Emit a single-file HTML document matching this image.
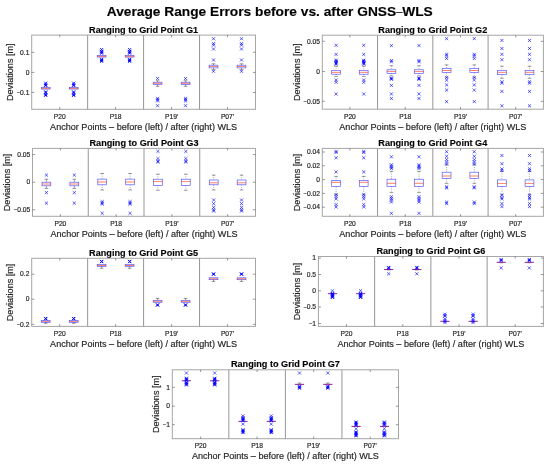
<!DOCTYPE html>
<html><head><meta charset="utf-8"><title>Average Range Errors before vs. after GNSS-WLS</title>
<style>
html,body{margin:0;padding:0;background:#fff;}
body{width:550px;height:465px;overflow:hidden;}
svg{display:block;font-family:"Liberation Sans",Arial,sans-serif;}
text{stroke:#262626;stroke-width:0.18px;}
</style></head><body>
<svg width="550" height="465" viewBox="0 0 550 465">
<rect width="550" height="465" fill="#fff"/>
<text x="269.8" y="16.1" text-anchor="middle" font-weight="bold" font-size="13.7" fill="#000" textLength="326" lengthAdjust="spacingAndGlyphs">Average Range Errors before vs. after GNSS<tspan font-weight="normal" font-size="11" dy="-1.2">–</tspan><tspan dy="1.2">WLS</tspan></text>
<text x="143.6" y="32.7" text-anchor="middle" font-weight="bold" font-size="9.1" fill="#000" textLength="109" lengthAdjust="spacingAndGlyphs">Ranging to Grid Point G1</text>
<g stroke="#a6a6a6" stroke-width="1" fill="none">
<rect x="31.7" y="35.1" width="223.8" height="74.2"/>
<path d="M87.65 35.1V109.3M143.60 35.1V109.3M199.55 35.1V109.3" stroke="#969696"/>
<path d="M31.7 52.3h2.6M255.5 52.3h-2.6M31.7 72.4h2.6M255.5 72.4h-2.6M31.7 92.4h2.6M255.5 92.4h-2.6M59.7 35.1v2.2M59.7 109.3v-2.2M115.6 35.1v2.2M115.6 109.3v-2.2M171.6 35.1v2.2M171.6 109.3v-2.2M227.5 35.1v2.2M227.5 109.3v-2.2" stroke="#555" stroke-width="0.6"/>
</g>
<text x="29.4" y="54.5" text-anchor="end" font-size="6.7" fill="#262626">0.1</text>
<text x="29.4" y="74.6" text-anchor="end" font-size="6.7" fill="#262626">0</text>
<text x="29.4" y="94.6" text-anchor="end" font-size="6.7" fill="#262626"><tspan font-size="5.7" dy="-0.45">−</tspan><tspan dy="0.45" dx="0.1">0.1</tspan></text>
<text x="59.7" y="118.9" text-anchor="middle" font-size="6.7" fill="#262626">P20</text>
<text x="115.6" y="118.9" text-anchor="middle" font-size="6.7" fill="#262626">P18</text>
<text x="171.6" y="118.9" text-anchor="middle" font-size="6.7" fill="#262626">P19'</text>
<text x="227.5" y="118.9" text-anchor="middle" font-size="6.7" fill="#262626">P07'</text>
<text x="143.6" y="129.7" text-anchor="middle" font-size="9.1" fill="#262626" textLength="187" lengthAdjust="spacingAndGlyphs">Anchor Points – before (left) / after (right) WLS</text>
<text transform="translate(13.0 72.2) rotate(-90)" text-anchor="middle" font-size="9.1" fill="#262626" textLength="57.6" lengthAdjust="spacingAndGlyphs">Deviations [m]</text>
<rect x="41.3" y="87.5" width="8.8" height="1.6" fill="none" stroke="#00f" stroke-width="0.65" opacity="0.7"/>
<path d="M41.3 88.3h8.8" stroke="#ff2a0a" stroke-width="0.75" opacity="0.8"/>
<path d="M44.19 81.70l3.0 3.0M44.19 84.70l3.0 -3.0M44.19 83.30l3.0 3.0M44.19 86.30l3.0 -3.0M44.19 84.00l3.0 3.0M44.19 87.00l3.0 -3.0M44.19 90.40l3.0 3.0M44.19 93.40l3.0 -3.0M44.19 91.40l3.0 3.0M44.19 94.40l3.0 -3.0M44.19 93.20l3.0 3.0M44.19 96.20l3.0 -3.0M44.19 93.90l3.0 3.0M44.19 96.90l3.0 -3.0" stroke="#00f" stroke-width="0.9" fill="none"/>
<rect x="69.3" y="87.5" width="8.8" height="1.6" fill="none" stroke="#00f" stroke-width="0.65" opacity="0.7"/>
<path d="M69.3 88.3h8.8" stroke="#ff2a0a" stroke-width="0.75" opacity="0.8"/>
<path d="M72.16 81.70l3.0 3.0M72.16 84.70l3.0 -3.0M72.16 83.30l3.0 3.0M72.16 86.30l3.0 -3.0M72.16 84.00l3.0 3.0M72.16 87.00l3.0 -3.0M72.16 90.40l3.0 3.0M72.16 93.40l3.0 -3.0M72.16 91.40l3.0 3.0M72.16 94.40l3.0 -3.0M72.16 93.20l3.0 3.0M72.16 96.20l3.0 -3.0M72.16 93.90l3.0 3.0M72.16 96.90l3.0 -3.0" stroke="#00f" stroke-width="0.9" fill="none"/>
<rect x="97.2" y="55.5" width="8.8" height="1.6" fill="none" stroke="#00f" stroke-width="0.65" opacity="0.7"/>
<path d="M97.2 56.3h8.8" stroke="#ff2a0a" stroke-width="0.75" opacity="0.8"/>
<path d="M100.14 48.10l3.0 3.0M100.14 51.10l3.0 -3.0M100.14 49.80l3.0 3.0M100.14 52.80l3.0 -3.0M100.14 50.70l3.0 3.0M100.14 53.70l3.0 -3.0M100.14 51.70l3.0 3.0M100.14 54.70l3.0 -3.0M100.14 57.90l3.0 3.0M100.14 60.90l3.0 -3.0M100.14 58.90l3.0 3.0M100.14 61.90l3.0 -3.0M100.14 59.80l3.0 3.0M100.14 62.80l3.0 -3.0" stroke="#00f" stroke-width="0.9" fill="none"/>
<rect x="125.2" y="55.5" width="8.8" height="1.6" fill="none" stroke="#00f" stroke-width="0.65" opacity="0.7"/>
<path d="M125.2 56.3h8.8" stroke="#ff2a0a" stroke-width="0.75" opacity="0.8"/>
<path d="M128.11 48.10l3.0 3.0M128.11 51.10l3.0 -3.0M128.11 49.80l3.0 3.0M128.11 52.80l3.0 -3.0M128.11 50.70l3.0 3.0M128.11 53.70l3.0 -3.0M128.11 51.70l3.0 3.0M128.11 54.70l3.0 -3.0M128.11 57.90l3.0 3.0M128.11 60.90l3.0 -3.0M128.11 58.90l3.0 3.0M128.11 61.90l3.0 -3.0M128.11 59.80l3.0 3.0M128.11 62.80l3.0 -3.0" stroke="#00f" stroke-width="0.9" fill="none"/>
<path d="M157.6 80.8V82.2M157.6 84.5V86.3" stroke="#000" stroke-width="0.6" fill="none" opacity="0.6"/>
<path d="M155.8 80.8h3.6M155.8 86.3h3.6" stroke="#000" stroke-width="0.8" fill="none" opacity="0.5"/>
<rect x="153.2" y="82.2" width="8.8" height="2.3" fill="none" stroke="#00f" stroke-width="0.65" opacity="0.7"/>
<path d="M153.2 83.3h8.8" stroke="#ff2a0a" stroke-width="0.75" opacity="0.8"/>
<path d="M156.04 76.95l3.1 3.1M156.04 80.05l3.1 -3.1M156.04 96.85l3.1 3.1M156.04 99.95l3.1 -3.1M156.04 98.15l3.1 3.1M156.04 101.25l3.1 -3.1M156.04 99.35l3.1 3.1M156.04 102.45l3.1 -3.1M156.04 104.15l3.1 3.1M156.04 107.25l3.1 -3.1" stroke="#00f" stroke-width="0.7" fill="none" opacity="0.9"/>
<path d="M185.6 80.8V82.2M185.6 84.5V86.3" stroke="#000" stroke-width="0.6" fill="none" opacity="0.6"/>
<path d="M183.8 80.8h3.6M183.8 86.3h3.6" stroke="#000" stroke-width="0.8" fill="none" opacity="0.5"/>
<rect x="181.2" y="82.2" width="8.8" height="2.3" fill="none" stroke="#00f" stroke-width="0.65" opacity="0.7"/>
<path d="M181.2 83.3h8.8" stroke="#ff2a0a" stroke-width="0.75" opacity="0.8"/>
<path d="M184.01 76.95l3.1 3.1M184.01 80.05l3.1 -3.1M184.01 96.85l3.1 3.1M184.01 99.95l3.1 -3.1M184.01 98.15l3.1 3.1M184.01 101.25l3.1 -3.1M184.01 99.35l3.1 3.1M184.01 102.45l3.1 -3.1M184.01 104.15l3.1 3.1M184.01 107.25l3.1 -3.1" stroke="#00f" stroke-width="0.7" fill="none" opacity="0.9"/>
<path d="M213.5 63.8V65.2M213.5 67.9V69.8" stroke="#000" stroke-width="0.6" fill="none" opacity="0.6"/>
<path d="M211.7 63.8h3.6M211.7 69.8h3.6" stroke="#000" stroke-width="0.8" fill="none" opacity="0.5"/>
<rect x="209.1" y="65.2" width="8.8" height="2.7" fill="none" stroke="#00f" stroke-width="0.65" opacity="0.7"/>
<path d="M209.1 66.6h8.8" stroke="#ff2a0a" stroke-width="0.75" opacity="0.8"/>
<path d="M211.99 37.15l3.1 3.1M211.99 40.25l3.1 -3.1M211.99 42.05l3.1 3.1M211.99 45.15l3.1 -3.1M211.99 43.55l3.1 3.1M211.99 46.65l3.1 -3.1M211.99 47.45l3.1 3.1M211.99 50.55l3.1 -3.1M211.99 58.45l3.1 3.1M211.99 61.55l3.1 -3.1M211.99 69.75l3.1 3.1M211.99 72.85l3.1 -3.1" stroke="#00f" stroke-width="0.7" fill="none" opacity="0.9"/>
<path d="M241.5 63.8V65.2M241.5 67.9V69.8" stroke="#000" stroke-width="0.6" fill="none" opacity="0.6"/>
<path d="M239.7 63.8h3.6M239.7 69.8h3.6" stroke="#000" stroke-width="0.8" fill="none" opacity="0.5"/>
<rect x="237.1" y="65.2" width="8.8" height="2.7" fill="none" stroke="#00f" stroke-width="0.65" opacity="0.7"/>
<path d="M237.1 66.6h8.8" stroke="#ff2a0a" stroke-width="0.75" opacity="0.8"/>
<path d="M239.96 37.15l3.1 3.1M239.96 40.25l3.1 -3.1M239.96 42.05l3.1 3.1M239.96 45.15l3.1 -3.1M239.96 43.55l3.1 3.1M239.96 46.65l3.1 -3.1M239.96 47.45l3.1 3.1M239.96 50.55l3.1 -3.1M239.96 58.45l3.1 3.1M239.96 61.55l3.1 -3.1M239.96 69.75l3.1 3.1M239.96 72.85l3.1 -3.1" stroke="#00f" stroke-width="0.7" fill="none" opacity="0.9"/>
<text x="432.8" y="32.8" text-anchor="middle" font-weight="bold" font-size="9.1" fill="#000" textLength="109" lengthAdjust="spacingAndGlyphs">Ranging to Grid Point G2</text>
<g stroke="#a6a6a6" stroke-width="1" fill="none">
<rect x="322.3" y="35.2" width="221.1" height="74.0"/>
<path d="M377.56 35.2V109.2M432.83 35.2V109.2M488.09 35.2V109.2" stroke="#969696"/>
<path d="M322.3 41.3h2.6M543.35 41.3h-2.6M322.3 71.5h2.6M543.35 71.5h-2.6M322.3 101.3h2.6M543.35 101.3h-2.6M349.9 35.2v2.2M349.9 109.2v-2.2M405.2 35.2v2.2M405.2 109.2v-2.2M460.5 35.2v2.2M460.5 109.2v-2.2M515.7 35.2v2.2M515.7 109.2v-2.2" stroke="#555" stroke-width="0.6"/>
</g>
<text x="320.0" y="43.5" text-anchor="end" font-size="6.7" fill="#262626">0.05</text>
<text x="320.0" y="73.7" text-anchor="end" font-size="6.7" fill="#262626">0</text>
<text x="320.0" y="103.5" text-anchor="end" font-size="6.7" fill="#262626"><tspan font-size="5.7" dy="-0.45">−</tspan><tspan dy="0.45" dx="0.1">0.05</tspan></text>
<text x="349.9" y="118.8" text-anchor="middle" font-size="6.7" fill="#262626">P20</text>
<text x="405.2" y="118.8" text-anchor="middle" font-size="6.7" fill="#262626">P18</text>
<text x="460.5" y="118.8" text-anchor="middle" font-size="6.7" fill="#262626">P19'</text>
<text x="515.7" y="118.8" text-anchor="middle" font-size="6.7" fill="#262626">P07'</text>
<text x="432.8" y="129.6" text-anchor="middle" font-size="9.1" fill="#262626" textLength="187" lengthAdjust="spacingAndGlyphs">Anchor Points – before (left) / after (right) WLS</text>
<text transform="translate(299.6 72.2) rotate(-90)" text-anchor="middle" font-size="9.1" fill="#262626" textLength="57.6" lengthAdjust="spacingAndGlyphs">Deviations [m]</text>
<path d="M336.1 66.2V70.3M336.1 74.2V76.4" stroke="#000" stroke-width="0.6" stroke-dasharray="0.9 1.3" fill="none" opacity="0.6"/>
<path d="M334.3 66.2h3.6M334.3 76.4h3.6" stroke="#000" stroke-width="0.8" fill="none" opacity="0.5"/>
<rect x="331.7" y="70.3" width="8.8" height="3.9" fill="none" stroke="#00f" stroke-width="0.65" opacity="0.7"/>
<path d="M331.7 72.3h8.8" stroke="#ff2a0a" stroke-width="0.75" opacity="0.8"/>
<path d="M334.57 43.75l3.1 3.1M334.57 46.85l3.1 -3.1M334.57 52.85l3.1 3.1M334.57 55.95l3.1 -3.1M334.57 78.45l3.1 3.1M334.57 81.55l3.1 -3.1M334.57 80.75l3.1 3.1M334.57 83.85l3.1 -3.1M334.57 92.45l3.1 3.1M334.57 95.55l3.1 -3.1" stroke="#00f" stroke-width="0.7" fill="none" opacity="0.9"/>
<path d="M334.62 58.80l3.0 3.0M334.62 61.80l3.0 -3.0M334.62 60.10l3.0 3.0M334.62 63.10l3.0 -3.0M334.62 61.30l3.0 3.0M334.62 64.30l3.0 -3.0M334.62 62.50l3.0 3.0M334.62 65.50l3.0 -3.0" stroke="#00f" stroke-width="0.9" fill="none"/>
<path d="M363.7 66.2V70.3M363.7 74.2V76.4" stroke="#000" stroke-width="0.6" stroke-dasharray="0.9 1.3" fill="none" opacity="0.6"/>
<path d="M361.9 66.2h3.6M361.9 76.4h3.6" stroke="#000" stroke-width="0.8" fill="none" opacity="0.5"/>
<rect x="359.3" y="70.3" width="8.8" height="3.9" fill="none" stroke="#00f" stroke-width="0.65" opacity="0.7"/>
<path d="M359.3 72.3h8.8" stroke="#ff2a0a" stroke-width="0.75" opacity="0.8"/>
<path d="M362.20 43.75l3.1 3.1M362.20 46.85l3.1 -3.1M362.20 52.85l3.1 3.1M362.20 55.95l3.1 -3.1M362.20 78.45l3.1 3.1M362.20 81.55l3.1 -3.1M362.20 80.75l3.1 3.1M362.20 83.85l3.1 -3.1M362.20 92.45l3.1 3.1M362.20 95.55l3.1 -3.1" stroke="#00f" stroke-width="0.7" fill="none" opacity="0.9"/>
<path d="M362.25 58.80l3.0 3.0M362.25 61.80l3.0 -3.0M362.25 60.10l3.0 3.0M362.25 63.10l3.0 -3.0M362.25 61.30l3.0 3.0M362.25 64.30l3.0 -3.0M362.25 62.50l3.0 3.0M362.25 65.50l3.0 -3.0" stroke="#00f" stroke-width="0.9" fill="none"/>
<path d="M391.4 65.7V69.8M391.4 73.3V75.9" stroke="#000" stroke-width="0.6" stroke-dasharray="0.9 1.3" fill="none" opacity="0.6"/>
<path d="M389.6 65.7h3.6M389.6 75.9h3.6" stroke="#000" stroke-width="0.8" fill="none" opacity="0.5"/>
<rect x="387.0" y="69.8" width="8.8" height="3.5" fill="none" stroke="#00f" stroke-width="0.65" opacity="0.7"/>
<path d="M387.0 71.6h8.8" stroke="#ff2a0a" stroke-width="0.75" opacity="0.8"/>
<path d="M389.83 44.05l3.1 3.1M389.83 47.15l3.1 -3.1M389.83 58.95l3.1 3.1M389.83 62.05l3.1 -3.1M389.83 60.25l3.1 3.1M389.83 63.35l3.1 -3.1M389.83 83.85l3.1 3.1M389.83 86.95l3.1 -3.1M389.83 92.35l3.1 3.1M389.83 95.45l3.1 -3.1M389.83 96.95l3.1 3.1M389.83 100.05l3.1 -3.1" stroke="#00f" stroke-width="0.7" fill="none" opacity="0.9"/>
<path d="M389.88 76.70l3.0 3.0M389.88 79.70l3.0 -3.0M389.88 77.70l3.0 3.0M389.88 80.70l3.0 -3.0" stroke="#00f" stroke-width="0.9" fill="none"/>
<path d="M419.0 65.7V69.8M419.0 73.3V75.9" stroke="#000" stroke-width="0.6" stroke-dasharray="0.9 1.3" fill="none" opacity="0.6"/>
<path d="M417.2 65.7h3.6M417.2 75.9h3.6" stroke="#000" stroke-width="0.8" fill="none" opacity="0.5"/>
<rect x="414.6" y="69.8" width="8.8" height="3.5" fill="none" stroke="#00f" stroke-width="0.65" opacity="0.7"/>
<path d="M414.6 71.6h8.8" stroke="#ff2a0a" stroke-width="0.75" opacity="0.8"/>
<path d="M417.46 44.05l3.1 3.1M417.46 47.15l3.1 -3.1M417.46 58.95l3.1 3.1M417.46 62.05l3.1 -3.1M417.46 60.25l3.1 3.1M417.46 63.35l3.1 -3.1M417.46 83.85l3.1 3.1M417.46 86.95l3.1 -3.1M417.46 92.35l3.1 3.1M417.46 95.45l3.1 -3.1M417.46 96.95l3.1 3.1M417.46 100.05l3.1 -3.1" stroke="#00f" stroke-width="0.7" fill="none" opacity="0.9"/>
<path d="M417.51 76.70l3.0 3.0M417.51 79.70l3.0 -3.0M417.51 77.70l3.0 3.0M417.51 80.70l3.0 -3.0" stroke="#00f" stroke-width="0.9" fill="none"/>
<path d="M446.6 64.9V68.4M446.6 72.6V77.2" stroke="#000" stroke-width="0.6" stroke-dasharray="0.9 1.3" fill="none" opacity="0.6"/>
<path d="M444.8 64.9h3.6M444.8 77.2h3.6" stroke="#000" stroke-width="0.8" fill="none" opacity="0.5"/>
<rect x="442.2" y="68.4" width="8.8" height="4.2" fill="none" stroke="#00f" stroke-width="0.65" opacity="0.7"/>
<path d="M442.2 70.5h8.8" stroke="#ff2a0a" stroke-width="0.75" opacity="0.8"/>
<path d="M445.09 37.05l3.1 3.1M445.09 40.15l3.1 -3.1M445.09 52.75l3.1 3.1M445.09 55.85l3.1 -3.1M445.09 54.35l3.1 3.1M445.09 57.45l3.1 -3.1M445.09 56.95l3.1 3.1M445.09 60.05l3.1 -3.1M445.09 75.95l3.1 3.1M445.09 79.05l3.1 -3.1M445.09 78.55l3.1 3.1M445.09 81.65l3.1 -3.1M445.09 83.35l3.1 3.1M445.09 86.45l3.1 -3.1M445.09 88.55l3.1 3.1M445.09 91.65l3.1 -3.1M445.09 100.05l3.1 3.1M445.09 103.15l3.1 -3.1" stroke="#00f" stroke-width="0.7" fill="none" opacity="0.9"/>
<path d="M474.3 64.9V68.4M474.3 72.6V77.2" stroke="#000" stroke-width="0.6" stroke-dasharray="0.9 1.3" fill="none" opacity="0.6"/>
<path d="M472.5 64.9h3.6M472.5 77.2h3.6" stroke="#000" stroke-width="0.8" fill="none" opacity="0.5"/>
<rect x="469.9" y="68.4" width="8.8" height="4.2" fill="none" stroke="#00f" stroke-width="0.65" opacity="0.7"/>
<path d="M469.9 70.5h8.8" stroke="#ff2a0a" stroke-width="0.75" opacity="0.8"/>
<path d="M472.72 37.05l3.1 3.1M472.72 40.15l3.1 -3.1M472.72 52.75l3.1 3.1M472.72 55.85l3.1 -3.1M472.72 54.35l3.1 3.1M472.72 57.45l3.1 -3.1M472.72 56.95l3.1 3.1M472.72 60.05l3.1 -3.1M472.72 75.95l3.1 3.1M472.72 79.05l3.1 -3.1M472.72 78.55l3.1 3.1M472.72 81.65l3.1 -3.1M472.72 83.35l3.1 3.1M472.72 86.45l3.1 -3.1M472.72 88.55l3.1 3.1M472.72 91.65l3.1 -3.1M472.72 100.05l3.1 3.1M472.72 103.15l3.1 -3.1" stroke="#00f" stroke-width="0.7" fill="none" opacity="0.9"/>
<path d="M501.9 66.2V70.3M501.9 74.7V78.3" stroke="#000" stroke-width="0.6" stroke-dasharray="0.9 1.3" fill="none" opacity="0.6"/>
<path d="M500.1 66.2h3.6M500.1 78.3h3.6" stroke="#000" stroke-width="0.8" fill="none" opacity="0.5"/>
<rect x="497.5" y="70.3" width="8.8" height="4.4" fill="none" stroke="#00f" stroke-width="0.65" opacity="0.7"/>
<path d="M497.5 72.3h8.8" stroke="#ff2a0a" stroke-width="0.75" opacity="0.8"/>
<path d="M500.35 38.85l3.1 3.1M500.35 41.95l3.1 -3.1M500.35 46.95l3.1 3.1M500.35 50.05l3.1 -3.1M500.35 52.75l3.1 3.1M500.35 55.85l3.1 -3.1M500.35 58.15l3.1 3.1M500.35 61.25l3.1 -3.1M500.35 80.25l3.1 3.1M500.35 83.35l3.1 -3.1M500.35 81.65l3.1 3.1M500.35 84.75l3.1 -3.1M500.35 89.85l3.1 3.1M500.35 92.95l3.1 -3.1M500.35 104.25l3.1 3.1M500.35 107.35l3.1 -3.1" stroke="#00f" stroke-width="0.7" fill="none" opacity="0.9"/>
<path d="M529.5 66.2V70.3M529.5 74.7V78.3" stroke="#000" stroke-width="0.6" stroke-dasharray="0.9 1.3" fill="none" opacity="0.6"/>
<path d="M527.7 66.2h3.6M527.7 78.3h3.6" stroke="#000" stroke-width="0.8" fill="none" opacity="0.5"/>
<rect x="525.1" y="70.3" width="8.8" height="4.4" fill="none" stroke="#00f" stroke-width="0.65" opacity="0.7"/>
<path d="M525.1 72.3h8.8" stroke="#ff2a0a" stroke-width="0.75" opacity="0.8"/>
<path d="M527.98 38.85l3.1 3.1M527.98 41.95l3.1 -3.1M527.98 46.95l3.1 3.1M527.98 50.05l3.1 -3.1M527.98 52.75l3.1 3.1M527.98 55.85l3.1 -3.1M527.98 58.15l3.1 3.1M527.98 61.25l3.1 -3.1M527.98 80.25l3.1 3.1M527.98 83.35l3.1 -3.1M527.98 81.65l3.1 3.1M527.98 84.75l3.1 -3.1M527.98 89.85l3.1 3.1M527.98 92.95l3.1 -3.1M527.98 104.25l3.1 3.1M527.98 107.35l3.1 -3.1" stroke="#00f" stroke-width="0.7" fill="none" opacity="0.9"/>
<text x="144.0" y="146.0" text-anchor="middle" font-weight="bold" font-size="9.1" fill="#000" textLength="109" lengthAdjust="spacingAndGlyphs">Ranging to Grid Point G3</text>
<g stroke="#a6a6a6" stroke-width="1" fill="none">
<rect x="32.5" y="148.4" width="223.0" height="67.9"/>
<path d="M88.25 148.4V216.3M144.00 148.4V216.3M199.75 148.4V216.3" stroke="#969696"/>
<path d="M32.5 154.6h2.6M255.5 154.6h-2.6M32.5 182.2h2.6M255.5 182.2h-2.6M32.5 209.7h2.6M255.5 209.7h-2.6M60.4 148.4v2.2M60.4 216.3v-2.2M116.1 148.4v2.2M116.1 216.3v-2.2M171.9 148.4v2.2M171.9 216.3v-2.2M227.6 148.4v2.2M227.6 216.3v-2.2" stroke="#555" stroke-width="0.6"/>
</g>
<text x="30.2" y="156.8" text-anchor="end" font-size="6.7" fill="#262626">0.05</text>
<text x="30.2" y="184.4" text-anchor="end" font-size="6.7" fill="#262626">0</text>
<text x="30.2" y="211.9" text-anchor="end" font-size="6.7" fill="#262626"><tspan font-size="5.7" dy="-0.45">−</tspan><tspan dy="0.45" dx="0.1">0.05</tspan></text>
<text x="60.4" y="225.9" text-anchor="middle" font-size="6.7" fill="#262626">P20</text>
<text x="116.1" y="225.9" text-anchor="middle" font-size="6.7" fill="#262626">P18</text>
<text x="171.9" y="225.9" text-anchor="middle" font-size="6.7" fill="#262626">P19'</text>
<text x="227.6" y="225.9" text-anchor="middle" font-size="6.7" fill="#262626">P07'</text>
<text x="144.0" y="236.7" text-anchor="middle" font-size="9.1" fill="#262626" textLength="187" lengthAdjust="spacingAndGlyphs">Anchor Points – before (left) / after (right) WLS</text>
<text transform="translate(9.9 182.4) rotate(-90)" text-anchor="middle" font-size="9.1" fill="#262626" textLength="57.6" lengthAdjust="spacingAndGlyphs">Deviations [m]</text>
<path d="M46.4 179.2V182.2M46.4 185.8V188.4" stroke="#000" stroke-width="0.6" fill="none" opacity="0.6"/>
<path d="M44.6 179.2h3.6M44.6 188.4h3.6" stroke="#000" stroke-width="0.8" fill="none" opacity="0.5"/>
<rect x="42.0" y="182.2" width="8.8" height="3.6" fill="none" stroke="#00f" stroke-width="0.65" opacity="0.7"/>
<path d="M42.0 184.0h8.8" stroke="#ff2a0a" stroke-width="0.75" opacity="0.8"/>
<path d="M44.89 173.55l3.1 3.1M44.89 176.65l3.1 -3.1M44.89 191.05l3.1 3.1M44.89 194.15l3.1 -3.1M44.89 201.55l3.1 3.1M44.89 204.65l3.1 -3.1" stroke="#00f" stroke-width="0.7" fill="none" opacity="0.9"/>
<path d="M74.3 179.2V182.2M74.3 185.8V188.4" stroke="#000" stroke-width="0.6" fill="none" opacity="0.6"/>
<path d="M72.5 179.2h3.6M72.5 188.4h3.6" stroke="#000" stroke-width="0.8" fill="none" opacity="0.5"/>
<rect x="69.9" y="182.2" width="8.8" height="3.6" fill="none" stroke="#00f" stroke-width="0.65" opacity="0.7"/>
<path d="M69.9 184.0h8.8" stroke="#ff2a0a" stroke-width="0.75" opacity="0.8"/>
<path d="M72.76 173.55l3.1 3.1M72.76 176.65l3.1 -3.1M72.76 191.05l3.1 3.1M72.76 194.15l3.1 -3.1M72.76 201.55l3.1 3.1M72.76 204.65l3.1 -3.1" stroke="#00f" stroke-width="0.7" fill="none" opacity="0.9"/>
<path d="M102.2 173.5V179.1M102.2 184.8V189.9" stroke="#000" stroke-width="0.6" stroke-dasharray="0.9 1.3" fill="none" opacity="0.6"/>
<path d="M100.4 173.5h3.6M100.4 189.9h3.6" stroke="#000" stroke-width="0.8" fill="none" opacity="0.5"/>
<rect x="97.8" y="179.1" width="8.8" height="5.7" fill="none" stroke="#00f" stroke-width="0.65" opacity="0.7"/>
<path d="M97.8 182.0h8.8" stroke="#ff2a0a" stroke-width="0.75" opacity="0.8"/>
<path d="M100.64 200.05l3.1 3.1M100.64 203.15l3.1 -3.1M100.64 201.45l3.1 3.1M100.64 204.55l3.1 -3.1M100.64 202.55l3.1 3.1M100.64 205.65l3.1 -3.1M100.64 211.75l3.1 3.1M100.64 214.85l3.1 -3.1" stroke="#00f" stroke-width="0.7" fill="none" opacity="0.9"/>
<path d="M130.1 173.5V179.1M130.1 184.8V189.9" stroke="#000" stroke-width="0.6" stroke-dasharray="0.9 1.3" fill="none" opacity="0.6"/>
<path d="M128.3 173.5h3.6M128.3 189.9h3.6" stroke="#000" stroke-width="0.8" fill="none" opacity="0.5"/>
<rect x="125.7" y="179.1" width="8.8" height="5.7" fill="none" stroke="#00f" stroke-width="0.65" opacity="0.7"/>
<path d="M125.7 182.0h8.8" stroke="#ff2a0a" stroke-width="0.75" opacity="0.8"/>
<path d="M128.51 200.05l3.1 3.1M128.51 203.15l3.1 -3.1M128.51 201.45l3.1 3.1M128.51 204.55l3.1 -3.1M128.51 202.55l3.1 3.1M128.51 205.65l3.1 -3.1M128.51 211.75l3.1 3.1M128.51 214.85l3.1 -3.1" stroke="#00f" stroke-width="0.7" fill="none" opacity="0.9"/>
<path d="M157.9 174.2V179.2M157.9 185.4V190.2" stroke="#000" stroke-width="0.6" stroke-dasharray="0.9 1.3" fill="none" opacity="0.6"/>
<path d="M156.1 174.2h3.6M156.1 190.2h3.6" stroke="#000" stroke-width="0.8" fill="none" opacity="0.5"/>
<rect x="153.5" y="179.2" width="8.8" height="6.2" fill="none" stroke="#00f" stroke-width="0.65" opacity="0.7"/>
<path d="M153.5 181.4h8.8" stroke="#ff2a0a" stroke-width="0.75" opacity="0.8"/>
<path d="M156.39 149.85l3.1 3.1M156.39 152.95l3.1 -3.1M156.39 157.05l3.1 3.1M156.39 160.15l3.1 -3.1M156.39 159.55l3.1 3.1M156.39 162.65l3.1 -3.1M156.39 160.45l3.1 3.1M156.39 163.55l3.1 -3.1" stroke="#00f" stroke-width="0.7" fill="none" opacity="0.9"/>
<path d="M185.8 174.2V179.2M185.8 185.4V190.2" stroke="#000" stroke-width="0.6" stroke-dasharray="0.9 1.3" fill="none" opacity="0.6"/>
<path d="M184.0 174.2h3.6M184.0 190.2h3.6" stroke="#000" stroke-width="0.8" fill="none" opacity="0.5"/>
<rect x="181.4" y="179.2" width="8.8" height="6.2" fill="none" stroke="#00f" stroke-width="0.65" opacity="0.7"/>
<path d="M181.4 181.4h8.8" stroke="#ff2a0a" stroke-width="0.75" opacity="0.8"/>
<path d="M184.26 149.85l3.1 3.1M184.26 152.95l3.1 -3.1M184.26 157.05l3.1 3.1M184.26 160.15l3.1 -3.1M184.26 159.55l3.1 3.1M184.26 162.65l3.1 -3.1M184.26 160.45l3.1 3.1M184.26 163.55l3.1 -3.1" stroke="#00f" stroke-width="0.7" fill="none" opacity="0.9"/>
<path d="M213.7 175.1V180.0M213.7 184.8V189.9" stroke="#000" stroke-width="0.6" stroke-dasharray="0.9 1.3" fill="none" opacity="0.6"/>
<path d="M211.9 175.1h3.6M211.9 189.9h3.6" stroke="#000" stroke-width="0.8" fill="none" opacity="0.5"/>
<rect x="209.3" y="180.0" width="8.8" height="4.8" fill="none" stroke="#00f" stroke-width="0.65" opacity="0.7"/>
<path d="M209.3 182.8h8.8" stroke="#ff2a0a" stroke-width="0.75" opacity="0.8"/>
<path d="M212.14 198.45l3.1 3.1M212.14 201.55l3.1 -3.1M212.14 202.05l3.1 3.1M212.14 205.15l3.1 -3.1M212.14 205.85l3.1 3.1M212.14 208.95l3.1 -3.1M212.14 208.25l3.1 3.1M212.14 211.35l3.1 -3.1M212.14 209.45l3.1 3.1M212.14 212.55l3.1 -3.1" stroke="#00f" stroke-width="0.7" fill="none" opacity="0.9"/>
<path d="M241.6 175.1V180.0M241.6 184.8V189.9" stroke="#000" stroke-width="0.6" stroke-dasharray="0.9 1.3" fill="none" opacity="0.6"/>
<path d="M239.8 175.1h3.6M239.8 189.9h3.6" stroke="#000" stroke-width="0.8" fill="none" opacity="0.5"/>
<rect x="237.2" y="180.0" width="8.8" height="4.8" fill="none" stroke="#00f" stroke-width="0.65" opacity="0.7"/>
<path d="M237.2 182.8h8.8" stroke="#ff2a0a" stroke-width="0.75" opacity="0.8"/>
<path d="M240.01 198.45l3.1 3.1M240.01 201.55l3.1 -3.1M240.01 202.05l3.1 3.1M240.01 205.15l3.1 -3.1M240.01 205.85l3.1 3.1M240.01 208.95l3.1 -3.1M240.01 208.25l3.1 3.1M240.01 211.35l3.1 -3.1M240.01 209.45l3.1 3.1M240.01 212.55l3.1 -3.1" stroke="#00f" stroke-width="0.7" fill="none" opacity="0.9"/>
<text x="432.8" y="146.0" text-anchor="middle" font-weight="bold" font-size="9.1" fill="#000" textLength="109" lengthAdjust="spacingAndGlyphs">Ranging to Grid Point G4</text>
<g stroke="#a6a6a6" stroke-width="1" fill="none">
<rect x="322.3" y="148.4" width="221.1" height="67.9"/>
<path d="M377.56 148.4V216.3M432.83 148.4V216.3M488.09 148.4V216.3" stroke="#969696"/>
<path d="M322.3 152.0h2.6M543.35 152.0h-2.6M322.3 165.8h2.6M543.35 165.8h-2.6M322.3 179.6h2.6M543.35 179.6h-2.6M322.3 193.4h2.6M543.35 193.4h-2.6M322.3 207.2h2.6M543.35 207.2h-2.6M349.9 148.4v2.2M349.9 216.3v-2.2M405.2 148.4v2.2M405.2 216.3v-2.2M460.5 148.4v2.2M460.5 216.3v-2.2M515.7 148.4v2.2M515.7 216.3v-2.2" stroke="#555" stroke-width="0.6"/>
</g>
<text x="320.0" y="154.2" text-anchor="end" font-size="6.7" fill="#262626">0.04</text>
<text x="320.0" y="168.0" text-anchor="end" font-size="6.7" fill="#262626">0.02</text>
<text x="320.0" y="181.8" text-anchor="end" font-size="6.7" fill="#262626">0</text>
<text x="320.0" y="195.6" text-anchor="end" font-size="6.7" fill="#262626"><tspan font-size="5.7" dy="-0.45">−</tspan><tspan dy="0.45" dx="0.1">0.02</tspan></text>
<text x="320.0" y="209.4" text-anchor="end" font-size="6.7" fill="#262626"><tspan font-size="5.7" dy="-0.45">−</tspan><tspan dy="0.45" dx="0.1">0.04</tspan></text>
<text x="349.9" y="225.9" text-anchor="middle" font-size="6.7" fill="#262626">P20</text>
<text x="405.2" y="225.9" text-anchor="middle" font-size="6.7" fill="#262626">P18</text>
<text x="460.5" y="225.9" text-anchor="middle" font-size="6.7" fill="#262626">P19'</text>
<text x="515.7" y="225.9" text-anchor="middle" font-size="6.7" fill="#262626">P07'</text>
<text x="432.8" y="236.7" text-anchor="middle" font-size="9.1" fill="#262626" textLength="187" lengthAdjust="spacingAndGlyphs">Anchor Points – before (left) / after (right) WLS</text>
<text transform="translate(299.6 182.4) rotate(-90)" text-anchor="middle" font-size="9.1" fill="#262626" textLength="57.6" lengthAdjust="spacingAndGlyphs">Deviations [m]</text>
<path d="M336.1 176.4V180.4M336.1 186.6V194.6" stroke="#000" stroke-width="0.6" stroke-dasharray="0.9 1.3" fill="none" opacity="0.6"/>
<path d="M334.3 176.4h3.6M334.3 194.6h3.6" stroke="#000" stroke-width="0.8" fill="none" opacity="0.5"/>
<rect x="331.7" y="180.4" width="8.8" height="6.2" fill="none" stroke="#00f" stroke-width="0.65" opacity="0.7"/>
<path d="M331.7 182.3h8.8" stroke="#ff2a0a" stroke-width="0.75" opacity="0.8"/>
<path d="M334.57 149.85l3.1 3.1M334.57 152.95l3.1 -3.1M334.57 150.95l3.1 3.1M334.57 154.05l3.1 -3.1M334.57 156.25l3.1 3.1M334.57 159.35l3.1 -3.1M334.57 170.35l3.1 3.1M334.57 173.45l3.1 -3.1M334.57 193.05l3.1 3.1M334.57 196.15l3.1 -3.1M334.57 195.15l3.1 3.1M334.57 198.25l3.1 -3.1M334.57 197.35l3.1 3.1M334.57 200.45l3.1 -3.1M334.57 203.05l3.1 3.1M334.57 206.15l3.1 -3.1M334.57 205.45l3.1 3.1M334.57 208.55l3.1 -3.1" stroke="#00f" stroke-width="0.7" fill="none" opacity="0.9"/>
<path d="M363.7 176.4V180.4M363.7 186.6V194.6" stroke="#000" stroke-width="0.6" stroke-dasharray="0.9 1.3" fill="none" opacity="0.6"/>
<path d="M361.9 176.4h3.6M361.9 194.6h3.6" stroke="#000" stroke-width="0.8" fill="none" opacity="0.5"/>
<rect x="359.3" y="180.4" width="8.8" height="6.2" fill="none" stroke="#00f" stroke-width="0.65" opacity="0.7"/>
<path d="M359.3 182.3h8.8" stroke="#ff2a0a" stroke-width="0.75" opacity="0.8"/>
<path d="M362.20 149.85l3.1 3.1M362.20 152.95l3.1 -3.1M362.20 150.95l3.1 3.1M362.20 154.05l3.1 -3.1M362.20 156.25l3.1 3.1M362.20 159.35l3.1 -3.1M362.20 170.35l3.1 3.1M362.20 173.45l3.1 -3.1M362.20 193.05l3.1 3.1M362.20 196.15l3.1 -3.1M362.20 195.15l3.1 3.1M362.20 198.25l3.1 -3.1M362.20 197.35l3.1 3.1M362.20 200.45l3.1 -3.1M362.20 203.05l3.1 3.1M362.20 206.15l3.1 -3.1M362.20 205.45l3.1 3.1M362.20 208.55l3.1 -3.1" stroke="#00f" stroke-width="0.7" fill="none" opacity="0.9"/>
<path d="M391.4 171.4V179.2M391.4 186.3V192.6" stroke="#000" stroke-width="0.6" stroke-dasharray="0.9 1.3" fill="none" opacity="0.6"/>
<path d="M389.6 171.4h3.6M389.6 192.6h3.6" stroke="#000" stroke-width="0.8" fill="none" opacity="0.5"/>
<rect x="387.0" y="179.2" width="8.8" height="7.1" fill="none" stroke="#00f" stroke-width="0.65" opacity="0.7"/>
<path d="M387.0 183.3h8.8" stroke="#ff2a0a" stroke-width="0.75" opacity="0.8"/>
<path d="M389.83 155.25l3.1 3.1M389.83 158.35l3.1 -3.1M389.83 163.25l3.1 3.1M389.83 166.35l3.1 -3.1M389.83 164.55l3.1 3.1M389.83 167.65l3.1 -3.1M389.83 165.75l3.1 3.1M389.83 168.85l3.1 -3.1M389.83 167.05l3.1 3.1M389.83 170.15l3.1 -3.1M389.83 195.15l3.1 3.1M389.83 198.25l3.1 -3.1M389.83 196.85l3.1 3.1M389.83 199.95l3.1 -3.1M389.83 198.45l3.1 3.1M389.83 201.55l3.1 -3.1M389.83 200.45l3.1 3.1M389.83 203.55l3.1 -3.1M389.83 211.75l3.1 3.1M389.83 214.85l3.1 -3.1" stroke="#00f" stroke-width="0.7" fill="none" opacity="0.9"/>
<path d="M419.0 171.4V179.2M419.0 186.3V192.6" stroke="#000" stroke-width="0.6" stroke-dasharray="0.9 1.3" fill="none" opacity="0.6"/>
<path d="M417.2 171.4h3.6M417.2 192.6h3.6" stroke="#000" stroke-width="0.8" fill="none" opacity="0.5"/>
<rect x="414.6" y="179.2" width="8.8" height="7.1" fill="none" stroke="#00f" stroke-width="0.65" opacity="0.7"/>
<path d="M414.6 183.3h8.8" stroke="#ff2a0a" stroke-width="0.75" opacity="0.8"/>
<path d="M417.46 155.25l3.1 3.1M417.46 158.35l3.1 -3.1M417.46 163.25l3.1 3.1M417.46 166.35l3.1 -3.1M417.46 164.55l3.1 3.1M417.46 167.65l3.1 -3.1M417.46 165.75l3.1 3.1M417.46 168.85l3.1 -3.1M417.46 167.05l3.1 3.1M417.46 170.15l3.1 -3.1M417.46 195.15l3.1 3.1M417.46 198.25l3.1 -3.1M417.46 196.85l3.1 3.1M417.46 199.95l3.1 -3.1M417.46 198.45l3.1 3.1M417.46 201.55l3.1 -3.1M417.46 200.45l3.1 3.1M417.46 203.55l3.1 -3.1M417.46 211.75l3.1 3.1M417.46 214.85l3.1 -3.1" stroke="#00f" stroke-width="0.7" fill="none" opacity="0.9"/>
<path d="M446.6 164.8V172.2M446.6 178.4V183.3" stroke="#000" stroke-width="0.6" stroke-dasharray="0.9 1.3" fill="none" opacity="0.6"/>
<path d="M444.8 164.8h3.6M444.8 183.3h3.6" stroke="#000" stroke-width="0.8" fill="none" opacity="0.5"/>
<rect x="442.2" y="172.2" width="8.8" height="6.2" fill="none" stroke="#00f" stroke-width="0.65" opacity="0.7"/>
<path d="M442.2 176.0h8.8" stroke="#ff2a0a" stroke-width="0.75" opacity="0.8"/>
<path d="M445.09 150.15l3.1 3.1M445.09 153.25l3.1 -3.1M445.09 154.75l3.1 3.1M445.09 157.85l3.1 -3.1M445.09 158.05l3.1 3.1M445.09 161.15l3.1 -3.1M445.09 160.45l3.1 3.1M445.09 163.55l3.1 -3.1M445.09 162.45l3.1 3.1M445.09 165.55l3.1 -3.1M445.09 185.35l3.1 3.1M445.09 188.45l3.1 -3.1M445.09 186.35l3.1 3.1M445.09 189.45l3.1 -3.1M445.09 200.55l3.1 3.1M445.09 203.65l3.1 -3.1M445.09 202.05l3.1 3.1M445.09 205.15l3.1 -3.1" stroke="#00f" stroke-width="0.7" fill="none" opacity="0.9"/>
<path d="M474.3 164.8V172.2M474.3 178.4V183.3" stroke="#000" stroke-width="0.6" stroke-dasharray="0.9 1.3" fill="none" opacity="0.6"/>
<path d="M472.5 164.8h3.6M472.5 183.3h3.6" stroke="#000" stroke-width="0.8" fill="none" opacity="0.5"/>
<rect x="469.9" y="172.2" width="8.8" height="6.2" fill="none" stroke="#00f" stroke-width="0.65" opacity="0.7"/>
<path d="M469.9 176.0h8.8" stroke="#ff2a0a" stroke-width="0.75" opacity="0.8"/>
<path d="M472.72 150.15l3.1 3.1M472.72 153.25l3.1 -3.1M472.72 154.75l3.1 3.1M472.72 157.85l3.1 -3.1M472.72 158.05l3.1 3.1M472.72 161.15l3.1 -3.1M472.72 160.45l3.1 3.1M472.72 163.55l3.1 -3.1M472.72 162.45l3.1 3.1M472.72 165.55l3.1 -3.1M472.72 185.35l3.1 3.1M472.72 188.45l3.1 -3.1M472.72 186.35l3.1 3.1M472.72 189.45l3.1 -3.1M472.72 200.55l3.1 3.1M472.72 203.65l3.1 -3.1M472.72 202.05l3.1 3.1M472.72 205.15l3.1 -3.1" stroke="#00f" stroke-width="0.7" fill="none" opacity="0.9"/>
<path d="M501.9 171.4V179.9M501.9 186.4V194.8" stroke="#000" stroke-width="0.6" stroke-dasharray="0.9 1.3" fill="none" opacity="0.6"/>
<path d="M500.1 171.4h3.6M500.1 194.8h3.6" stroke="#000" stroke-width="0.8" fill="none" opacity="0.5"/>
<rect x="497.5" y="179.9" width="8.8" height="6.5" fill="none" stroke="#00f" stroke-width="0.65" opacity="0.7"/>
<path d="M497.5 183.6h8.8" stroke="#ff2a0a" stroke-width="0.75" opacity="0.8"/>
<path d="M500.35 153.95l3.1 3.1M500.35 157.05l3.1 -3.1M500.35 162.15l3.1 3.1M500.35 165.25l3.1 -3.1M500.35 167.35l3.1 3.1M500.35 170.45l3.1 -3.1M500.35 168.95l3.1 3.1M500.35 172.05l3.1 -3.1M500.35 193.55l3.1 3.1M500.35 196.65l3.1 -3.1M500.35 196.05l3.1 3.1M500.35 199.15l3.1 -3.1M500.35 197.35l3.1 3.1M500.35 200.45l3.1 -3.1M500.35 202.05l3.1 3.1M500.35 205.15l3.1 -3.1M500.35 205.05l3.1 3.1M500.35 208.15l3.1 -3.1" stroke="#00f" stroke-width="0.7" fill="none" opacity="0.9"/>
<path d="M529.5 171.4V179.9M529.5 186.4V194.8" stroke="#000" stroke-width="0.6" stroke-dasharray="0.9 1.3" fill="none" opacity="0.6"/>
<path d="M527.7 171.4h3.6M527.7 194.8h3.6" stroke="#000" stroke-width="0.8" fill="none" opacity="0.5"/>
<rect x="525.1" y="179.9" width="8.8" height="6.5" fill="none" stroke="#00f" stroke-width="0.65" opacity="0.7"/>
<path d="M525.1 183.6h8.8" stroke="#ff2a0a" stroke-width="0.75" opacity="0.8"/>
<path d="M527.98 153.95l3.1 3.1M527.98 157.05l3.1 -3.1M527.98 162.15l3.1 3.1M527.98 165.25l3.1 -3.1M527.98 167.35l3.1 3.1M527.98 170.45l3.1 -3.1M527.98 168.95l3.1 3.1M527.98 172.05l3.1 -3.1M527.98 193.55l3.1 3.1M527.98 196.65l3.1 -3.1M527.98 196.05l3.1 3.1M527.98 199.15l3.1 -3.1M527.98 197.35l3.1 3.1M527.98 200.45l3.1 -3.1M527.98 202.05l3.1 3.1M527.98 205.15l3.1 -3.1M527.98 205.05l3.1 3.1M527.98 208.15l3.1 -3.1" stroke="#00f" stroke-width="0.7" fill="none" opacity="0.9"/>
<text x="143.6" y="255.9" text-anchor="middle" font-weight="bold" font-size="9.1" fill="#000" textLength="109" lengthAdjust="spacingAndGlyphs">Ranging to Grid Point G5</text>
<g stroke="#a6a6a6" stroke-width="1" fill="none">
<rect x="31.7" y="258.3" width="223.8" height="68.1"/>
<path d="M87.65 258.3V326.4M143.60 258.3V326.4M199.55 258.3V326.4" stroke="#969696"/>
<path d="M31.7 274.2h2.6M255.5 274.2h-2.6M31.7 299.2h2.6M255.5 299.2h-2.6M31.7 324.3h2.6M255.5 324.3h-2.6M59.7 258.3v2.2M59.7 326.4v-2.2M115.6 258.3v2.2M115.6 326.4v-2.2M171.6 258.3v2.2M171.6 326.4v-2.2M227.5 258.3v2.2M227.5 326.4v-2.2" stroke="#555" stroke-width="0.6"/>
</g>
<text x="29.4" y="276.4" text-anchor="end" font-size="6.7" fill="#262626">0.2</text>
<text x="29.4" y="301.4" text-anchor="end" font-size="6.7" fill="#262626">0</text>
<text x="29.4" y="326.5" text-anchor="end" font-size="6.7" fill="#262626"><tspan font-size="5.7" dy="-0.45">−</tspan><tspan dy="0.45" dx="0.1">0.2</tspan></text>
<text x="59.7" y="336.0" text-anchor="middle" font-size="6.7" fill="#262626">P20</text>
<text x="115.6" y="336.0" text-anchor="middle" font-size="6.7" fill="#262626">P18</text>
<text x="171.6" y="336.0" text-anchor="middle" font-size="6.7" fill="#262626">P19'</text>
<text x="227.5" y="336.0" text-anchor="middle" font-size="6.7" fill="#262626">P07'</text>
<text x="143.6" y="346.8" text-anchor="middle" font-size="9.1" fill="#262626" textLength="187" lengthAdjust="spacingAndGlyphs">Anchor Points – before (left) / after (right) WLS</text>
<text transform="translate(12.9 292.4) rotate(-90)" text-anchor="middle" font-size="9.1" fill="#262626" textLength="57.6" lengthAdjust="spacingAndGlyphs">Deviations [m]</text>
<path d="M45.7 322.3V323.3" stroke="#000" stroke-width="0.6" fill="none" opacity="0.6"/>
<path d="M43.9 323.3h3.6" stroke="#000" stroke-width="0.8" fill="none" opacity="0.5"/>
<rect x="41.3" y="320.5" width="8.8" height="1.8" fill="none" stroke="#00f" stroke-width="0.65" opacity="0.7"/>
<path d="M41.3 321.4h8.8" stroke="#ff2a0a" stroke-width="0.75" opacity="0.8"/>
<path d="M44.19 316.95l3.0 3.0M44.19 319.95l3.0 -3.0M44.19 317.25l3.0 3.0M44.19 320.25l3.0 -3.0" stroke="#00f" stroke-width="0.9" fill="none"/>
<path d="M73.7 322.3V323.3" stroke="#000" stroke-width="0.6" fill="none" opacity="0.6"/>
<path d="M71.9 323.3h3.6" stroke="#000" stroke-width="0.8" fill="none" opacity="0.5"/>
<rect x="69.3" y="320.5" width="8.8" height="1.8" fill="none" stroke="#00f" stroke-width="0.65" opacity="0.7"/>
<path d="M69.3 321.4h8.8" stroke="#ff2a0a" stroke-width="0.75" opacity="0.8"/>
<path d="M72.16 316.95l3.0 3.0M72.16 319.95l3.0 -3.0M72.16 317.25l3.0 3.0M72.16 320.25l3.0 -3.0" stroke="#00f" stroke-width="0.9" fill="none"/>
<path d="M101.6 266.5V268.3" stroke="#000" stroke-width="0.6" fill="none" opacity="0.6"/>
<path d="M99.8 268.3h3.6" stroke="#000" stroke-width="0.8" fill="none" opacity="0.5"/>
<rect x="97.2" y="264.5" width="8.8" height="2.0" fill="none" stroke="#00f" stroke-width="0.65" opacity="0.7"/>
<path d="M97.2 265.5h8.8" stroke="#ff2a0a" stroke-width="0.75" opacity="0.8"/>
<path d="M100.14 259.85l3.0 3.0M100.14 262.85l3.0 -3.0M100.14 260.15l3.0 3.0M100.14 263.15l3.0 -3.0" stroke="#00f" stroke-width="0.9" fill="none"/>
<path d="M129.6 266.5V268.3" stroke="#000" stroke-width="0.6" fill="none" opacity="0.6"/>
<path d="M127.8 268.3h3.6" stroke="#000" stroke-width="0.8" fill="none" opacity="0.5"/>
<rect x="125.2" y="264.5" width="8.8" height="2.0" fill="none" stroke="#00f" stroke-width="0.65" opacity="0.7"/>
<path d="M125.2 265.5h8.8" stroke="#ff2a0a" stroke-width="0.75" opacity="0.8"/>
<path d="M128.11 259.85l3.0 3.0M128.11 262.85l3.0 -3.0M128.11 260.15l3.0 3.0M128.11 263.15l3.0 -3.0" stroke="#00f" stroke-width="0.9" fill="none"/>
<path d="M157.6 298.4V300.3" stroke="#000" stroke-width="0.6" fill="none" opacity="0.6"/>
<path d="M155.8 298.4h3.6" stroke="#000" stroke-width="0.8" fill="none" opacity="0.5"/>
<rect x="153.2" y="300.3" width="8.8" height="2.0" fill="none" stroke="#00f" stroke-width="0.65" opacity="0.7"/>
<path d="M153.2 301.3h8.8" stroke="#ff2a0a" stroke-width="0.75" opacity="0.8"/>
<path d="M156.09 303.35l3.0 3.0M156.09 306.35l3.0 -3.0M156.09 303.65l3.0 3.0M156.09 306.65l3.0 -3.0" stroke="#00f" stroke-width="0.9" fill="none"/>
<path d="M185.6 298.4V300.3" stroke="#000" stroke-width="0.6" fill="none" opacity="0.6"/>
<path d="M183.8 298.4h3.6" stroke="#000" stroke-width="0.8" fill="none" opacity="0.5"/>
<rect x="181.2" y="300.3" width="8.8" height="2.0" fill="none" stroke="#00f" stroke-width="0.65" opacity="0.7"/>
<path d="M181.2 301.3h8.8" stroke="#ff2a0a" stroke-width="0.75" opacity="0.8"/>
<path d="M184.06 303.35l3.0 3.0M184.06 306.35l3.0 -3.0M184.06 303.65l3.0 3.0M184.06 306.65l3.0 -3.0" stroke="#00f" stroke-width="0.9" fill="none"/>
<path d="M213.5 279.7V281.4" stroke="#000" stroke-width="0.6" fill="none" opacity="0.6"/>
<path d="M211.7 281.4h3.6" stroke="#000" stroke-width="0.8" fill="none" opacity="0.5"/>
<rect x="209.1" y="277.8" width="8.8" height="1.9" fill="none" stroke="#00f" stroke-width="0.65" opacity="0.7"/>
<path d="M209.1 278.8h8.8" stroke="#ff2a0a" stroke-width="0.75" opacity="0.8"/>
<path d="M212.04 272.45l3.0 3.0M212.04 275.45l3.0 -3.0M212.04 272.75l3.0 3.0M212.04 275.75l3.0 -3.0" stroke="#00f" stroke-width="0.9" fill="none"/>
<path d="M241.5 279.7V281.4" stroke="#000" stroke-width="0.6" fill="none" opacity="0.6"/>
<path d="M239.7 281.4h3.6" stroke="#000" stroke-width="0.8" fill="none" opacity="0.5"/>
<rect x="237.1" y="277.8" width="8.8" height="1.9" fill="none" stroke="#00f" stroke-width="0.65" opacity="0.7"/>
<path d="M237.1 278.8h8.8" stroke="#ff2a0a" stroke-width="0.75" opacity="0.8"/>
<path d="M240.01 272.45l3.0 3.0M240.01 275.45l3.0 -3.0M240.01 272.75l3.0 3.0M240.01 275.75l3.0 -3.0" stroke="#00f" stroke-width="0.9" fill="none"/>
<text x="430.9" y="254.1" text-anchor="middle" font-weight="bold" font-size="9.1" fill="#000" textLength="109" lengthAdjust="spacingAndGlyphs">Ranging to Grid Point G6</text>
<g stroke="#a6a6a6" stroke-width="1" fill="none">
<rect x="318.4" y="256.5" width="225.0" height="69.9"/>
<path d="M374.64 256.5V326.4M430.88 256.5V326.4M487.11 256.5V326.4" stroke="#969696"/>
<path d="M318.4 258.1h2.6M543.35 258.1h-2.6M318.4 274.5h2.6M543.35 274.5h-2.6M318.4 290.8h2.6M543.35 290.8h-2.6M318.4 307.0h2.6M543.35 307.0h-2.6M318.4 323.5h2.6M543.35 323.5h-2.6M346.5 256.5v2.2M346.5 326.4v-2.2M402.8 256.5v2.2M402.8 326.4v-2.2M459.0 256.5v2.2M459.0 326.4v-2.2M515.2 256.5v2.2M515.2 326.4v-2.2" stroke="#555" stroke-width="0.6"/>
</g>
<text x="316.1" y="260.3" text-anchor="end" font-size="6.7" fill="#262626">1</text>
<text x="316.1" y="276.7" text-anchor="end" font-size="6.7" fill="#262626">0.5</text>
<text x="316.1" y="293.0" text-anchor="end" font-size="6.7" fill="#262626">0</text>
<text x="316.1" y="309.2" text-anchor="end" font-size="6.7" fill="#262626"><tspan font-size="5.7" dy="-0.45">−</tspan><tspan dy="0.45" dx="0.1">0.5</tspan></text>
<text x="316.1" y="325.7" text-anchor="end" font-size="6.7" fill="#262626"><tspan font-size="5.7" dy="-0.45">−</tspan><tspan dy="0.45" dx="0.1">1</tspan></text>
<text x="346.5" y="336.0" text-anchor="middle" font-size="6.7" fill="#262626">P20</text>
<text x="402.8" y="336.0" text-anchor="middle" font-size="6.7" fill="#262626">P18</text>
<text x="459.0" y="336.0" text-anchor="middle" font-size="6.7" fill="#262626">P19'</text>
<text x="515.2" y="336.0" text-anchor="middle" font-size="6.7" fill="#262626">P07'</text>
<text x="430.9" y="346.8" text-anchor="middle" font-size="9.1" fill="#262626" textLength="187" lengthAdjust="spacingAndGlyphs">Anchor Points – before (left) / after (right) WLS</text>
<text transform="translate(299.6 291.4) rotate(-90)" text-anchor="middle" font-size="9.1" fill="#262626" textLength="57.6" lengthAdjust="spacingAndGlyphs">Deviations [m]</text>
<path d="M327.9 293.70h9.200000000000001" stroke="#8a1495" stroke-width="1" opacity="0.95"/>
<path d="M330.91 289.25l3.1 3.1M330.91 292.35l3.1 -3.1" stroke="#00f" stroke-width="0.7" fill="none" opacity="0.9"/>
<path d="M330.96 291.90l3.0 3.0M330.96 294.90l3.0 -3.0M330.96 292.80l3.0 3.0M330.96 295.80l3.0 -3.0M330.96 293.70l3.0 3.0M330.96 296.70l3.0 -3.0M330.96 294.50l3.0 3.0M330.96 297.50l3.0 -3.0M330.96 295.30l3.0 3.0M330.96 298.30l3.0 -3.0M330.96 295.90l3.0 3.0M330.96 298.90l3.0 -3.0" stroke="#00f" stroke-width="0.9" fill="none"/>
<path d="M356.0 293.70h9.200000000000001" stroke="#8a1495" stroke-width="1" opacity="0.95"/>
<path d="M359.03 289.25l3.1 3.1M359.03 292.35l3.1 -3.1" stroke="#00f" stroke-width="0.7" fill="none" opacity="0.9"/>
<path d="M359.08 291.90l3.0 3.0M359.08 294.90l3.0 -3.0M359.08 292.80l3.0 3.0M359.08 295.80l3.0 -3.0M359.08 293.70l3.0 3.0M359.08 296.70l3.0 -3.0M359.08 294.50l3.0 3.0M359.08 297.50l3.0 -3.0M359.08 295.30l3.0 3.0M359.08 298.30l3.0 -3.0M359.08 295.90l3.0 3.0M359.08 298.90l3.0 -3.0" stroke="#00f" stroke-width="0.9" fill="none"/>
<path d="M388.7 269.75V270.0" stroke="#000" stroke-width="0.6" fill="none" opacity="0.6"/>
<path d="M386.9 270.0h3.6" stroke="#000" stroke-width="0.8" fill="none" opacity="0.5"/>
<path d="M384.1 269.48h9.200000000000001" stroke="#8a1495" stroke-width="1" opacity="0.95"/>
<path d="M387.15 272.25l3.1 3.1M387.15 275.35l3.1 -3.1" stroke="#00f" stroke-width="0.7" fill="none" opacity="0.9"/>
<path d="M387.20 265.90l3.0 3.0M387.20 268.90l3.0 -3.0M387.20 266.60l3.0 3.0M387.20 269.60l3.0 -3.0" stroke="#00f" stroke-width="0.9" fill="none"/>
<path d="M416.8 269.75V270.0" stroke="#000" stroke-width="0.6" fill="none" opacity="0.6"/>
<path d="M415.0 270.0h3.6" stroke="#000" stroke-width="0.8" fill="none" opacity="0.5"/>
<path d="M412.2 269.48h9.200000000000001" stroke="#8a1495" stroke-width="1" opacity="0.95"/>
<path d="M415.27 272.25l3.1 3.1M415.27 275.35l3.1 -3.1" stroke="#00f" stroke-width="0.7" fill="none" opacity="0.9"/>
<path d="M415.32 265.90l3.0 3.0M415.32 268.90l3.0 -3.0M415.32 266.60l3.0 3.0M415.32 269.60l3.0 -3.0" stroke="#00f" stroke-width="0.9" fill="none"/>
<path d="M440.3 321.30h9.200000000000001" stroke="#8a1495" stroke-width="1" opacity="0.95"/>
<path d="M443.38 312.65l3.1 3.1M443.38 315.75l3.1 -3.1M443.38 314.05l3.1 3.1M443.38 317.15l3.1 -3.1M443.38 314.45l3.1 3.1M443.38 317.55l3.1 -3.1M443.38 317.25l3.1 3.1M443.38 320.35l3.1 -3.1M443.38 318.85l3.1 3.1M443.38 321.95l3.1 -3.1M443.38 319.85l3.1 3.1M443.38 322.95l3.1 -3.1M443.38 321.05l3.1 3.1M443.38 324.15l3.1 -3.1" stroke="#00f" stroke-width="0.7" fill="none" opacity="0.9"/>
<path d="M468.5 321.30h9.200000000000001" stroke="#8a1495" stroke-width="1" opacity="0.95"/>
<path d="M471.50 312.65l3.1 3.1M471.50 315.75l3.1 -3.1M471.50 314.05l3.1 3.1M471.50 317.15l3.1 -3.1M471.50 314.45l3.1 3.1M471.50 317.55l3.1 -3.1M471.50 317.25l3.1 3.1M471.50 320.35l3.1 -3.1M471.50 318.85l3.1 3.1M471.50 321.95l3.1 -3.1M471.50 319.85l3.1 3.1M471.50 322.95l3.1 -3.1M471.50 321.05l3.1 3.1M471.50 324.15l3.1 -3.1" stroke="#00f" stroke-width="0.7" fill="none" opacity="0.9"/>
<path d="M501.2 262.4V262.8" stroke="#000" stroke-width="0.6" fill="none" opacity="0.6"/>
<path d="M499.4 262.8h3.6" stroke="#000" stroke-width="0.8" fill="none" opacity="0.5"/>
<path d="M496.6 262.30h9.200000000000001" stroke="#8a1495" stroke-width="1" opacity="0.95"/>
<path d="M499.62 266.35l3.1 3.1M499.62 269.45l3.1 -3.1" stroke="#00f" stroke-width="0.7" fill="none" opacity="0.9"/>
<path d="M499.67 258.10l3.0 3.0M499.67 261.10l3.0 -3.0M499.67 259.00l3.0 3.0M499.67 262.00l3.0 -3.0" stroke="#00f" stroke-width="0.9" fill="none"/>
<path d="M529.3 262.4V262.8" stroke="#000" stroke-width="0.6" fill="none" opacity="0.6"/>
<path d="M527.5 262.8h3.6" stroke="#000" stroke-width="0.8" fill="none" opacity="0.5"/>
<path d="M524.7 262.30h9.200000000000001" stroke="#8a1495" stroke-width="1" opacity="0.95"/>
<path d="M527.74 266.35l3.1 3.1M527.74 269.45l3.1 -3.1" stroke="#00f" stroke-width="0.7" fill="none" opacity="0.9"/>
<path d="M527.79 258.10l3.0 3.0M527.79 261.10l3.0 -3.0M527.79 259.00l3.0 3.0M527.79 262.00l3.0 -3.0" stroke="#00f" stroke-width="0.9" fill="none"/>
<text x="285.4" y="367.4" text-anchor="middle" font-weight="bold" font-size="9.1" fill="#000" textLength="109" lengthAdjust="spacingAndGlyphs">Ranging to Grid Point G7</text>
<g stroke="#a6a6a6" stroke-width="1" fill="none">
<rect x="172.3" y="369.8" width="226.2" height="68.9"/>
<path d="M228.85 369.8V438.7M285.40 369.8V438.7M341.95 369.8V438.7" stroke="#969696"/>
<path d="M172.3 387.3h2.6M398.5 387.3h-2.6M172.3 406.2h2.6M398.5 406.2h-2.6M172.3 424.7h2.6M398.5 424.7h-2.6M200.6 369.8v2.2M200.6 438.7v-2.2M257.1 369.8v2.2M257.1 438.7v-2.2M313.7 369.8v2.2M313.7 438.7v-2.2M370.2 369.8v2.2M370.2 438.7v-2.2" stroke="#555" stroke-width="0.6"/>
</g>
<text x="170.0" y="389.5" text-anchor="end" font-size="6.7" fill="#262626">1</text>
<text x="170.0" y="408.4" text-anchor="end" font-size="6.7" fill="#262626">0</text>
<text x="170.0" y="426.9" text-anchor="end" font-size="6.7" fill="#262626"><tspan font-size="5.7" dy="-0.45">−</tspan><tspan dy="0.45" dx="0.1">1</tspan></text>
<text x="200.6" y="448.3" text-anchor="middle" font-size="6.7" fill="#262626">P20</text>
<text x="257.1" y="448.3" text-anchor="middle" font-size="6.7" fill="#262626">P18</text>
<text x="313.7" y="448.3" text-anchor="middle" font-size="6.7" fill="#262626">P19'</text>
<text x="370.2" y="448.3" text-anchor="middle" font-size="6.7" fill="#262626">P07'</text>
<text x="285.4" y="459.1" text-anchor="middle" font-size="9.1" fill="#262626" textLength="187" lengthAdjust="spacingAndGlyphs">Anchor Points – before (left) / after (right) WLS</text>
<text transform="translate(159.3 404.2) rotate(-90)" text-anchor="middle" font-size="9.1" fill="#262626" textLength="57.6" lengthAdjust="spacingAndGlyphs">Deviations [m]</text>
<path d="M181.8 380.75h9.200000000000001" stroke="#8a1495" stroke-width="1" opacity="0.95"/>
<path d="M184.89 371.45l3.1 3.1M184.89 374.55l3.1 -3.1" stroke="#00f" stroke-width="0.7" fill="none" opacity="0.9"/>
<path d="M184.94 376.80l3.0 3.0M184.94 379.80l3.0 -3.0M184.94 377.80l3.0 3.0M184.94 380.80l3.0 -3.0M184.94 378.70l3.0 3.0M184.94 381.70l3.0 -3.0M184.94 380.80l3.0 3.0M184.94 383.80l3.0 -3.0M184.94 381.80l3.0 3.0M184.94 384.80l3.0 -3.0M184.94 382.70l3.0 3.0M184.94 385.70l3.0 -3.0M184.94 383.40l3.0 3.0M184.94 386.40l3.0 -3.0" stroke="#00f" stroke-width="0.9" fill="none"/>
<path d="M210.1 380.75h9.200000000000001" stroke="#8a1495" stroke-width="1" opacity="0.95"/>
<path d="M213.16 371.45l3.1 3.1M213.16 374.55l3.1 -3.1" stroke="#00f" stroke-width="0.7" fill="none" opacity="0.9"/>
<path d="M213.21 376.80l3.0 3.0M213.21 379.80l3.0 -3.0M213.21 377.80l3.0 3.0M213.21 380.80l3.0 -3.0M213.21 378.70l3.0 3.0M213.21 381.70l3.0 -3.0M213.21 380.80l3.0 3.0M213.21 383.80l3.0 -3.0M213.21 381.80l3.0 3.0M213.21 384.80l3.0 -3.0M213.21 382.70l3.0 3.0M213.21 385.70l3.0 -3.0M213.21 383.40l3.0 3.0M213.21 386.40l3.0 -3.0" stroke="#00f" stroke-width="0.9" fill="none"/>
<path d="M238.4 421.35h9.200000000000001" stroke="#8a1495" stroke-width="1" opacity="0.95"/>
<path d="M241.44 414.35l3.1 3.1M241.44 417.45l3.1 -3.1M241.44 422.55l3.1 3.1M241.44 425.65l3.1 -3.1" stroke="#00f" stroke-width="0.7" fill="none" opacity="0.9"/>
<path d="M241.49 416.30l3.0 3.0M241.49 419.30l3.0 -3.0M241.49 417.30l3.0 3.0M241.49 420.30l3.0 -3.0M241.49 418.30l3.0 3.0M241.49 421.30l3.0 -3.0M241.49 419.10l3.0 3.0M241.49 422.10l3.0 -3.0M241.49 428.30l3.0 3.0M241.49 431.30l3.0 -3.0M241.49 429.30l3.0 3.0M241.49 432.30l3.0 -3.0M241.49 430.30l3.0 3.0M241.49 433.30l3.0 -3.0M241.49 431.10l3.0 3.0M241.49 434.10l3.0 -3.0" stroke="#00f" stroke-width="0.9" fill="none"/>
<path d="M266.7 421.35h9.200000000000001" stroke="#8a1495" stroke-width="1" opacity="0.95"/>
<path d="M269.71 414.35l3.1 3.1M269.71 417.45l3.1 -3.1M269.71 422.55l3.1 3.1M269.71 425.65l3.1 -3.1" stroke="#00f" stroke-width="0.7" fill="none" opacity="0.9"/>
<path d="M269.76 416.30l3.0 3.0M269.76 419.30l3.0 -3.0M269.76 417.30l3.0 3.0M269.76 420.30l3.0 -3.0M269.76 418.30l3.0 3.0M269.76 421.30l3.0 -3.0M269.76 419.10l3.0 3.0M269.76 422.10l3.0 -3.0M269.76 428.30l3.0 3.0M269.76 431.30l3.0 -3.0M269.76 429.30l3.0 3.0M269.76 432.30l3.0 -3.0M269.76 430.30l3.0 3.0M269.76 433.30l3.0 -3.0M269.76 431.10l3.0 3.0M269.76 434.10l3.0 -3.0" stroke="#00f" stroke-width="0.9" fill="none"/>
<path d="M299.5 383.0V383.9" stroke="#000" stroke-width="0.6" fill="none" opacity="0.6"/>
<path d="M297.7 383.0h3.6" stroke="#000" stroke-width="0.8" fill="none" opacity="0.5"/>
<path d="M294.9 384.35h9.200000000000001" stroke="#8a1495" stroke-width="1" opacity="0.95"/>
<path d="M297.99 371.45l3.1 3.1M297.99 374.55l3.1 -3.1" stroke="#00f" stroke-width="0.7" fill="none" opacity="0.9"/>
<path d="M298.04 384.80l3.0 3.0M298.04 387.80l3.0 -3.0M298.04 385.80l3.0 3.0M298.04 388.80l3.0 -3.0M298.04 386.70l3.0 3.0M298.04 389.70l3.0 -3.0" stroke="#00f" stroke-width="0.9" fill="none"/>
<path d="M327.8 383.0V383.9" stroke="#000" stroke-width="0.6" fill="none" opacity="0.6"/>
<path d="M326.0 383.0h3.6" stroke="#000" stroke-width="0.8" fill="none" opacity="0.5"/>
<path d="M323.2 384.35h9.200000000000001" stroke="#8a1495" stroke-width="1" opacity="0.95"/>
<path d="M326.26 371.45l3.1 3.1M326.26 374.55l3.1 -3.1" stroke="#00f" stroke-width="0.7" fill="none" opacity="0.9"/>
<path d="M326.31 384.80l3.0 3.0M326.31 387.80l3.0 -3.0M326.31 385.80l3.0 3.0M326.31 388.80l3.0 -3.0M326.31 386.70l3.0 3.0M326.31 389.70l3.0 -3.0" stroke="#00f" stroke-width="0.9" fill="none"/>
<path d="M351.5 426.40h9.200000000000001" stroke="#8a1495" stroke-width="1" opacity="0.95"/>
<path d="M354.54 427.25l3.1 3.1M354.54 430.35l3.1 -3.1" stroke="#00f" stroke-width="0.7" fill="none" opacity="0.9"/>
<path d="M354.59 420.60l3.0 3.0M354.59 423.60l3.0 -3.0M354.59 421.60l3.0 3.0M354.59 424.60l3.0 -3.0M354.59 422.60l3.0 3.0M354.59 425.60l3.0 -3.0M354.59 423.50l3.0 3.0M354.59 426.50l3.0 -3.0M354.59 430.50l3.0 3.0M354.59 433.50l3.0 -3.0M354.59 431.50l3.0 3.0M354.59 434.50l3.0 -3.0M354.59 432.50l3.0 3.0M354.59 435.50l3.0 -3.0M354.59 433.50l3.0 3.0M354.59 436.50l3.0 -3.0M354.59 434.30l3.0 3.0M354.59 437.30l3.0 -3.0" stroke="#00f" stroke-width="0.9" fill="none"/>
<path d="M379.8 426.40h9.200000000000001" stroke="#8a1495" stroke-width="1" opacity="0.95"/>
<path d="M382.81 427.25l3.1 3.1M382.81 430.35l3.1 -3.1" stroke="#00f" stroke-width="0.7" fill="none" opacity="0.9"/>
<path d="M382.86 420.60l3.0 3.0M382.86 423.60l3.0 -3.0M382.86 421.60l3.0 3.0M382.86 424.60l3.0 -3.0M382.86 422.60l3.0 3.0M382.86 425.60l3.0 -3.0M382.86 423.50l3.0 3.0M382.86 426.50l3.0 -3.0M382.86 430.50l3.0 3.0M382.86 433.50l3.0 -3.0M382.86 431.50l3.0 3.0M382.86 434.50l3.0 -3.0M382.86 432.50l3.0 3.0M382.86 435.50l3.0 -3.0M382.86 433.50l3.0 3.0M382.86 436.50l3.0 -3.0M382.86 434.30l3.0 3.0M382.86 437.30l3.0 -3.0" stroke="#00f" stroke-width="0.9" fill="none"/>
</svg>
</body></html>
